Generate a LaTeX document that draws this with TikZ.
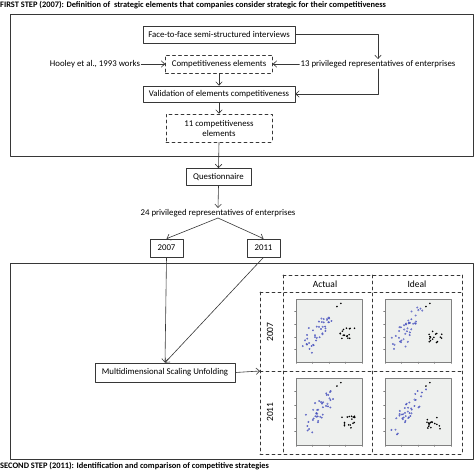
\documentclass[tikz,border=0pt]{standalone}
\usepackage{fontspec}
\setmainfont{Carlito}
\usetikzlibrary{arrows.meta}
\definecolor{boxgray}{RGB}{55,55,55}
\definecolor{panelgray}{RGB}{238,240,238}
\definecolor{ptblue}{RGB}{70,80,190}
% one scatter panel of the unfolding: left, top, height, seed, black x, black y
\newcommand\mdspanel[6]{%
\begin{scope}[shift={(#1,#2)}]
	\fill[panelgray] (13,7) rectangle (79,#3-9);
	\draw[gray,line width=0.3pt] (13,7) rectangle (79,#3-9);
	\foreach \k in {0,...,4}
	\draw[gray,line width=0.3pt] (13+16.5*\k,#3-9)--(13+16.5*\k,#3-7.5);
	\foreach \k in {1,...,4}
	\draw[gray,line width=0.3pt] (13,{7+(#3-16)*\k/5})--(11.5,{7+(#3-16)*\k/5});
	\pgfmathsetseed{#4}
	\foreach \i in {1,...,40}{
		\pgfmathsetmacro\t{rnd}
		\pgfmathsetmacro\px{13+66*(0.15+0.38*\t+0.1*rand)}
		\pgfmathsetmacro\py{7+(#3-16)*(0.75-0.55*\t+0.13*rand)}
		\draw[ptblue,line width=0.35pt] (\px,\py) circle (0.8);
	}
	\foreach \i in {1,...,16}{
		\pgfmathsetmacro\px{13+66*(#5+0.11*rand)}
		\pgfmathsetmacro\py{7+(#3-16)*(#6+0.09*rand)}
		\fill (\px,\py) circle (0.9);
	}
	\fill (13+66*0.62,{7+(#3-16)*0.12}) circle (0.9);
	\fill (13+66*0.68,{7+(#3-16)*0.07}) circle (0.9);
\end{scope}}
\begin{document}
\begin{tikzpicture}[x=1pt,y=-1pt,>={Straight Barb[length=3.5pt,width=6.5pt]},
	font=\fontsize{8.8}{10}\selectfont, line join=round, line cap=round,
	stepframe/.style={draw=boxgray,line width=0.8pt},
	block/.style={draw=boxgray,line width=0.7pt,inner sep=1pt,align=center},
	dashblock/.style={block,dashed},
	lbl/.style={inner sep=1pt},
	steptitle/.style={anchor=west,inner sep=0pt,font=\fontsize{8.4}{10}\selectfont\bfseries},
	link/.style={->,line width=0.6pt,boxgray},
	griddash/.style={dashed,line width=0.7pt,boxgray},
	head/.style={font=\fontsize{9.5}{11}\selectfont}]
	\useasboundingbox (0,0) rectangle (474,474);
	% first step
	\node[steptitle] (title1) at (0,5) {FIRST STEP (2007): Definition of \ strategic elements that companies consider strategic for their competitiveness};
	\draw[stepframe] (10,14) rectangle (473,156);
	\node[block,minimum width=152pt,minimum height=17pt] (face) at (219,34.5) {Face-to-face semi-structured interviews};
	\node[dashblock,minimum width=107pt,minimum height=18pt] (comp) at (219,64) {Competitiveness elements};
	\node[lbl] (hooley) at (95,64) {Hooley et al., 1993 works};
	\node[lbl] (priv13) at (378,64) {13 privileged representatives of enterprises};
	\node[block,minimum width=152pt,minimum height=16pt] (valid) at (219,94) {Validation of elements competitiveness};
	\node[dashblock,minimum width=106pt,minimum height=28pt] (elem11) at (219,128) {11 competitiveness\\elements};
	\draw[link] (face.east) -| (priv13.north);
	\draw[link] (hooley.east) -- (comp.west);
	\draw[link] (priv13.west) -- (comp.east);
	\draw[link] (comp.south) -- (valid.north);
	\draw[link] (priv13.south) |- (valid.east);
	\draw[link] (valid.south) -- (elem11.north);
	% survey
	\node[block,minimum width=65pt,minimum height=17pt] (quest) at (218.5,177) {Questionnaire};
	\node[lbl] (priv24) at (218,213) {24 privileged representatives of enterprises};
	\node[block,minimum width=33pt,minimum height=18pt] (y2007) at (166.5,248) {2007};
	\node[block,minimum width=33pt,minimum height=18pt] (y2011) at (263.5,248) {2011};
	\draw[link] (elem11.south) -- (quest.north);
	\draw[link] (quest.south) -- (priv24.north);
	\draw[link] (priv24.south) -- (y2007.north);
	\draw[link] (priv24.south) -- (y2011.north);
	% second step
	\draw[stepframe] (10,263) rectangle (473,459);
	\node[steptitle] (title2) at (0,466) {SECOND STEP (2011): Identification and comparison of competitive strategies};
	\node[block,minimum width=140pt,minimum height=19pt] (mds) at (165,372.5) {Multidimensional Scaling Unfolding};
	\coordinate (grid) at (260,371);
	\draw[link] (y2007.south) -- (mds.north);
	\draw[link] (y2011.south) -- (mds.north);
	\draw[link] (mds.east) -- (grid);
	\mdspanel{283}{292}{79}{11}{0.78}{0.55}
	\mdspanel{372}{292}{79}{23}{0.76}{0.6}
	\mdspanel{283}{371}{83}{37}{0.8}{0.66}
	\mdspanel{372}{371}{83}{41}{0.74}{0.68}
	\draw[griddash] (283,275)--(462,275) (260,292)--(462,292)
	(260,371)--(462,371) (260,454)--(462,454);
	\draw[griddash] (260,292)--(260,454) (283,275)--(283,454)
	(372,275)--(372,454) (462,275)--(462,454);
	\node[head] (actual) at (325,284) {Actual};
	\node[head] (ideal) at (417,284) {Ideal};
	\node[head,rotate=90] (r2007) at (270,332) {2007};
	\node[head,rotate=90] (r2011) at (270,412) {2011};
\end{tikzpicture}
\end{document}
